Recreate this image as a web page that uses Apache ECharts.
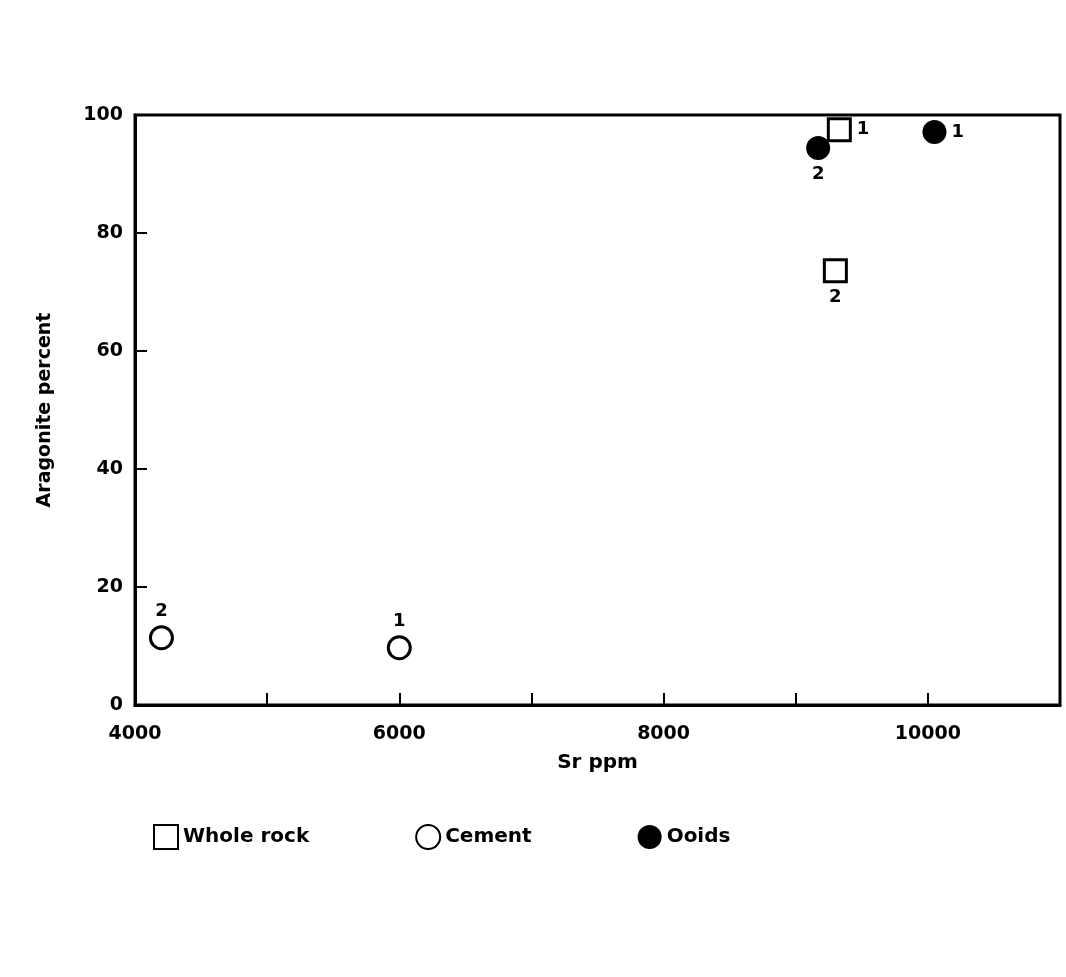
<!DOCTYPE html>
<html>
<head>
<meta charset="utf-8">
<script src="https://cdn.jsdelivr.net/npm/echarts@6/dist/echarts.min.js"></script>
<style>body{margin:0;background:#fff}</style>
</head>
<body>
<div id="chart" style="width:1066px;height:977px;"></div>
<script>
var wholeRock = [[9330, 97.5], [9300, 73.6]];
var cement = [[4200, 11.4], [6000, 9.7]];
var ooids = [[10050, 97.1], [9170, 94.4]];
var wholeRockTags = ['1', '2'];
var cementTags = ['2', '1'];
var ooidsTags = ['1', '2'];
var xTicks = [4000, 6000, 8000, 10000];

var chart = echarts.init(document.getElementById('chart'));
var font = 'DejaVu Sans';
function tagged(data, tags, pos) {
    return data.map(function (d, i) {
        return {value: d, label: {show: true, formatter: tags[i], position: pos[i]}};
    });
}
var lbl = {fontSize: 18, fontWeight: 'bold', color: '#000', opacity: 1};
chart.setOption({
    animation: false,
    textStyle: {fontFamily: font, color: '#000'},
    grid: {left: 135, right: 6, top: 115, bottom: 272},
    xAxis: {
        type: 'value', min: 4000, max: 11000, interval: 1000,
        name: 'Sr ppm', nameLocation: 'middle', nameGap: 48,
        nameTextStyle: {fontSize: 20, fontWeight: 'bold', color: '#000'},
        axisLine: {lineStyle: {color: '#000', width: 3}},
        axisTick: {inside: true, length: 12, lineStyle: {color: '#000', width: 2}},
        axisLabel: {fontSize: 19, fontWeight: 'bold', color: '#000', margin: 20,
            formatter: function (v) { return xTicks.indexOf(v) >= 0 ? v : ''; }},
        splitLine: {show: false}
    },
    yAxis: {
        type: 'value', min: 0, max: 100, interval: 20,
        name: 'Aragonite percent', nameLocation: 'middle', nameGap: 80,
        nameTextStyle: {fontSize: 19, fontWeight: 'bold', color: '#000'},
        axisLine: {lineStyle: {color: '#000', width: 3}},
        axisTick: {inside: true, length: 12, lineStyle: {color: '#000', width: 2}},
        axisLabel: {fontSize: 19, fontWeight: 'bold', color: '#000', margin: 12},
        splitLine: {show: false}
    },
    graphic: [{type: 'rect', shape: {x: 135, y: 115, width: 925, height: 590},
        style: {fill: 'none', stroke: '#000', lineWidth: 3}, silent: true}],
    legend: {
        bottom: 122, left: 148, itemGap: 106, itemWidth: 24, itemHeight: 24,
        textStyle: {fontSize: 20, fontWeight: 'bold', color: '#000'},
        data: ['Whole rock', 'Cement', 'Ooids']
    },
    series: [
        {name: 'Whole rock', type: 'scatter', symbol: 'rect', symbolSize: 22,
            itemStyle: {color: '#fff', borderColor: '#000', borderWidth: 3, opacity: 1},
            label: lbl,
            data: tagged(wholeRock, wholeRockTags, ['right', 'bottom'])},
        {name: 'Cement', type: 'scatter', symbol: 'circle', symbolSize: 22,
            itemStyle: {color: '#fff', borderColor: '#000', borderWidth: 3, opacity: 1},
            label: lbl,
            data: tagged(cement, cementTags, ['top', 'top'])},
        {name: 'Ooids', type: 'scatter', symbol: 'circle', symbolSize: 24,
            itemStyle: {color: '#000', opacity: 1},
            label: lbl,
            data: tagged(ooids, ooidsTags, ['right', 'bottom'])}
    ]
});
</script>
</body>
</html>
